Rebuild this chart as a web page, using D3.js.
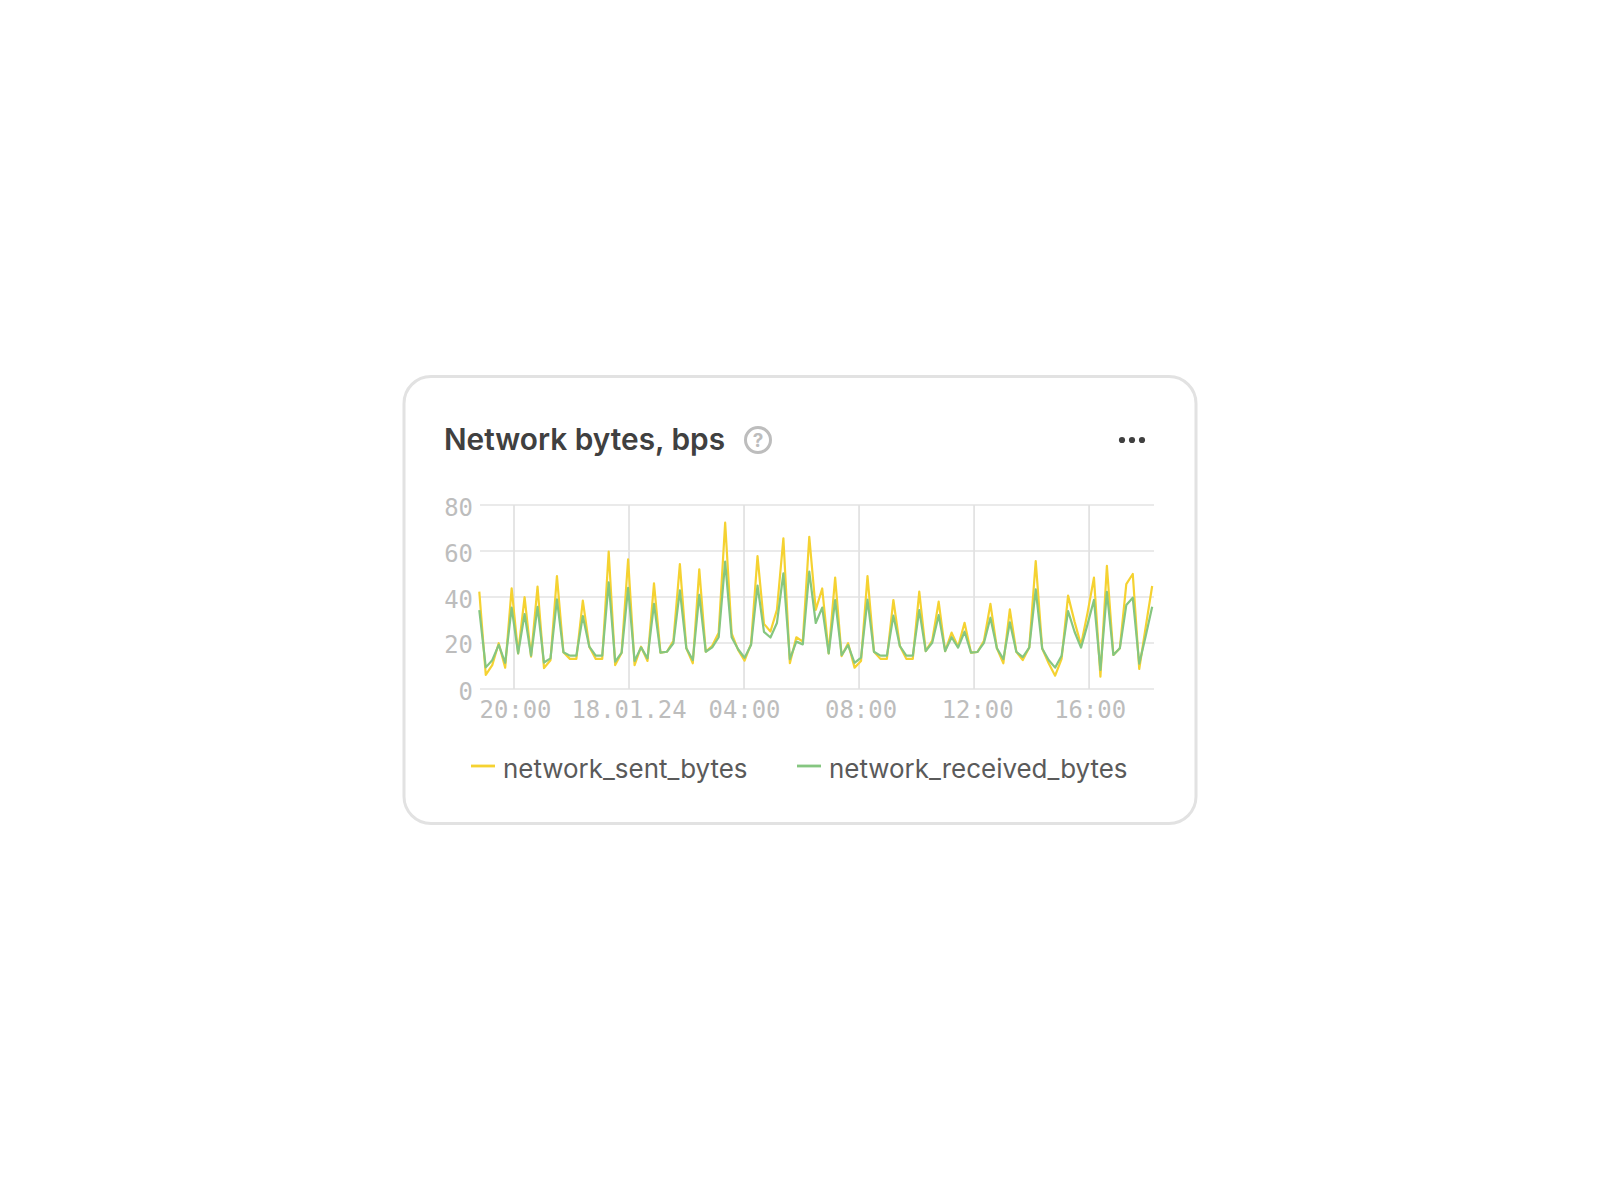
<!DOCTYPE html>
<html><head><meta charset="utf-8">
<script src="https://cdn.jsdelivr.net/npm/d3@7"></script>
<style>html,body{margin:0;padding:0;background:#fff;}svg{display:block;}</style>
</head><body><svg id="c" width="1600" height="1200"></svg>
<script>
const titleText = "Network bytes, bps";
const seriesNames = ["network_sent_bytes", "network_received_bytes"];
const seriesColors = ["#f5d231", "#85c680"];
const yTicks = [0, 20, 40, 60, 80];
const xTickTimes = ["2024-01-17T20:00","2024-01-18T00:00","2024-01-18T04:00","2024-01-18T08:00","2024-01-18T12:00","2024-01-18T16:00"];
const xTickLabels = ["20:00","18.01.24","04:00","08:00","12:00","16:00"];
const sent = [42.3,6.1,10.4,19.9,9.3,43.8,15.5,39.9,14.1,44.5,9.1,12.5,49.1,16,13.1,13.1,38.4,18.4,13.1,13.1,59.7,10.4,15.8,56.4,10.4,18.4,12.2,45.9,15.8,16.2,21,54.3,17.7,11.2,52,16.2,18.8,24.5,72.3,24.2,17,12.3,19.6,57.8,28.3,25,34.4,65.5,11.2,22.5,20.6,66.2,34.4,43.7,15.5,48.4,14.3,19.9,9.3,12.2,49.1,16.2,13.1,13.1,38.7,18.7,13.1,13.1,42.3,16.5,21,38.0,16.5,24.5,18.4,28.8,15.8,16.1,21,37,17.7,11.2,34.6,16.2,12.6,18,55.6,17.6,11.2,5.8,13.1,40.6,29.3,19.1,33,48.4,5.4,53.5,14.8,17.7,45.6,50,8.7,27,44.8];
const received = [34.3,9.4,12.5,19.2,11.4,35.4,15.5,32.6,14.5,35.7,11.5,13.3,39,16,14.5,14.5,31.7,18.4,14.5,14.5,46.4,11.9,15.8,44,12.2,18.1,13.3,37,15.8,16.2,19.9,42.9,17.7,12.6,40.9,16.2,18.1,22.5,55.4,22.5,17.3,13.6,19.1,45,24.8,22.4,28.7,50.3,13,20.6,19.4,51,28.7,35.4,15.5,38.7,14.7,19.1,11.4,13.6,38.9,16.2,14.5,14.5,31.9,18.7,14.5,14.5,34.3,16.5,20.1,32.1,16.5,22.5,18.0,24.9,15.8,16.1,20.1,31,17.7,13,29,16.2,13.9,18,43.3,17.6,12.6,9.3,14.5,33.9,24.9,18,28,38.7,8.3,42.2,14.8,17.7,36.5,39.7,11,23,35.8];
const stepMinutes = 13.5;
const startTime = new Date("2024-01-17T18:47:36");
const times = sent.map((_, i) => new Date(+startTime + i * stepMinutes * 60000));

const svg = d3.select("#c");
const sans = "Inter, 'Noto Sans', sans-serif";
const mono = "'DejaVu Sans Mono', monospace";
svg.append("rect").attr("x",404).attr("y",376.5).attr("width",792).attr("height",447).attr("rx",27)
  .attr("fill","#fff").attr("stroke","#e2e2e2").attr("stroke-width",3);
svg.append("text").attr("x",444).attr("y",450).attr("font-family",sans).attr("font-size",29.8).attr("font-weight",600)
  .attr("fill","#404040").text(titleText);
const help = svg.append("g").attr("transform","translate(758,440)");
help.append("circle").attr("r",12.5).attr("fill","none").attr("stroke","#bdbdbd").attr("stroke-width",3);
help.append("text").attr("text-anchor","middle").attr("y",7).attr("font-family",sans).attr("font-size",19).attr("font-weight",700).attr("fill","#bdbdbd").text("?");
svg.append("g").selectAll("circle").data([-10,0,10]).join("circle")
  .attr("cx",d=>1132+d).attr("cy",440).attr("r",3.1).attr("fill","#404040");

const x = d3.scaleTime().domain([startTime, times[times.length-1]]).range([479.3, 479.3 + 6.47*(sent.length-1)]);
const y = d3.scaleLinear().domain([0,80]).range([689,505]);
const left = 480, right = 1154;
const xLabelShift = [1.5,0,0.5,2,3.5,1];
const g = svg.append("g");
g.selectAll(".h").data(yTicks).join("line").attr("x1",left).attr("x2",right)
  .attr("y1",d=>y(d)).attr("y2",d=>y(d)).attr("stroke","#e3e3e3").attr("stroke-width",1.7);
g.selectAll(".v").data(xTickTimes).join("line").attr("x1",d=>x(new Date(d))).attr("x2",d=>x(new Date(d)))
  .attr("y1",505).attr("y2",689).attr("stroke","#e1e1e1").attr("stroke-width",1.7);
g.selectAll(".yl").data(yTicks).join("text").attr("x",473).attr("y",d=>y(d)+(d===20?10:11)).attr("text-anchor","end")
  .attr("font-family",mono).attr("font-size",23.9).attr("fill","#bdbdbd").text(d=>d);
g.selectAll(".xl").data(xTickTimes).join("text").attr("x",(d,i)=>x(new Date(d))+xLabelShift[i]).attr("y",718).attr("text-anchor","middle")
  .attr("font-family",mono).attr("font-size",23.9).attr("fill","#bdbdbd").text((d,i)=>xTickLabels[i]);
const line = d3.line().x((d,i)=>x(times[i])).y(d=>y(d));
[sent,received].forEach((s,k)=>{
  svg.append("path").attr("d",line(s)).attr("fill","none").attr("stroke",seriesColors[k]).attr("stroke-width",2.2).attr("stroke-linejoin","round");
});
const legendX = [471, 797];
seriesNames.forEach((n,k)=>{
  svg.append("line").attr("x1",legendX[k]).attr("x2",legendX[k]+24).attr("y1",766).attr("y2",766).attr("stroke",seriesColors[k]).attr("stroke-width",2.8);
  svg.append("text").attr("x",legendX[k]+32).attr("y",778).attr("font-family",sans).attr("font-size",25.95).attr("fill","#5a5a5a").text(n);
});
</script></body></html>
